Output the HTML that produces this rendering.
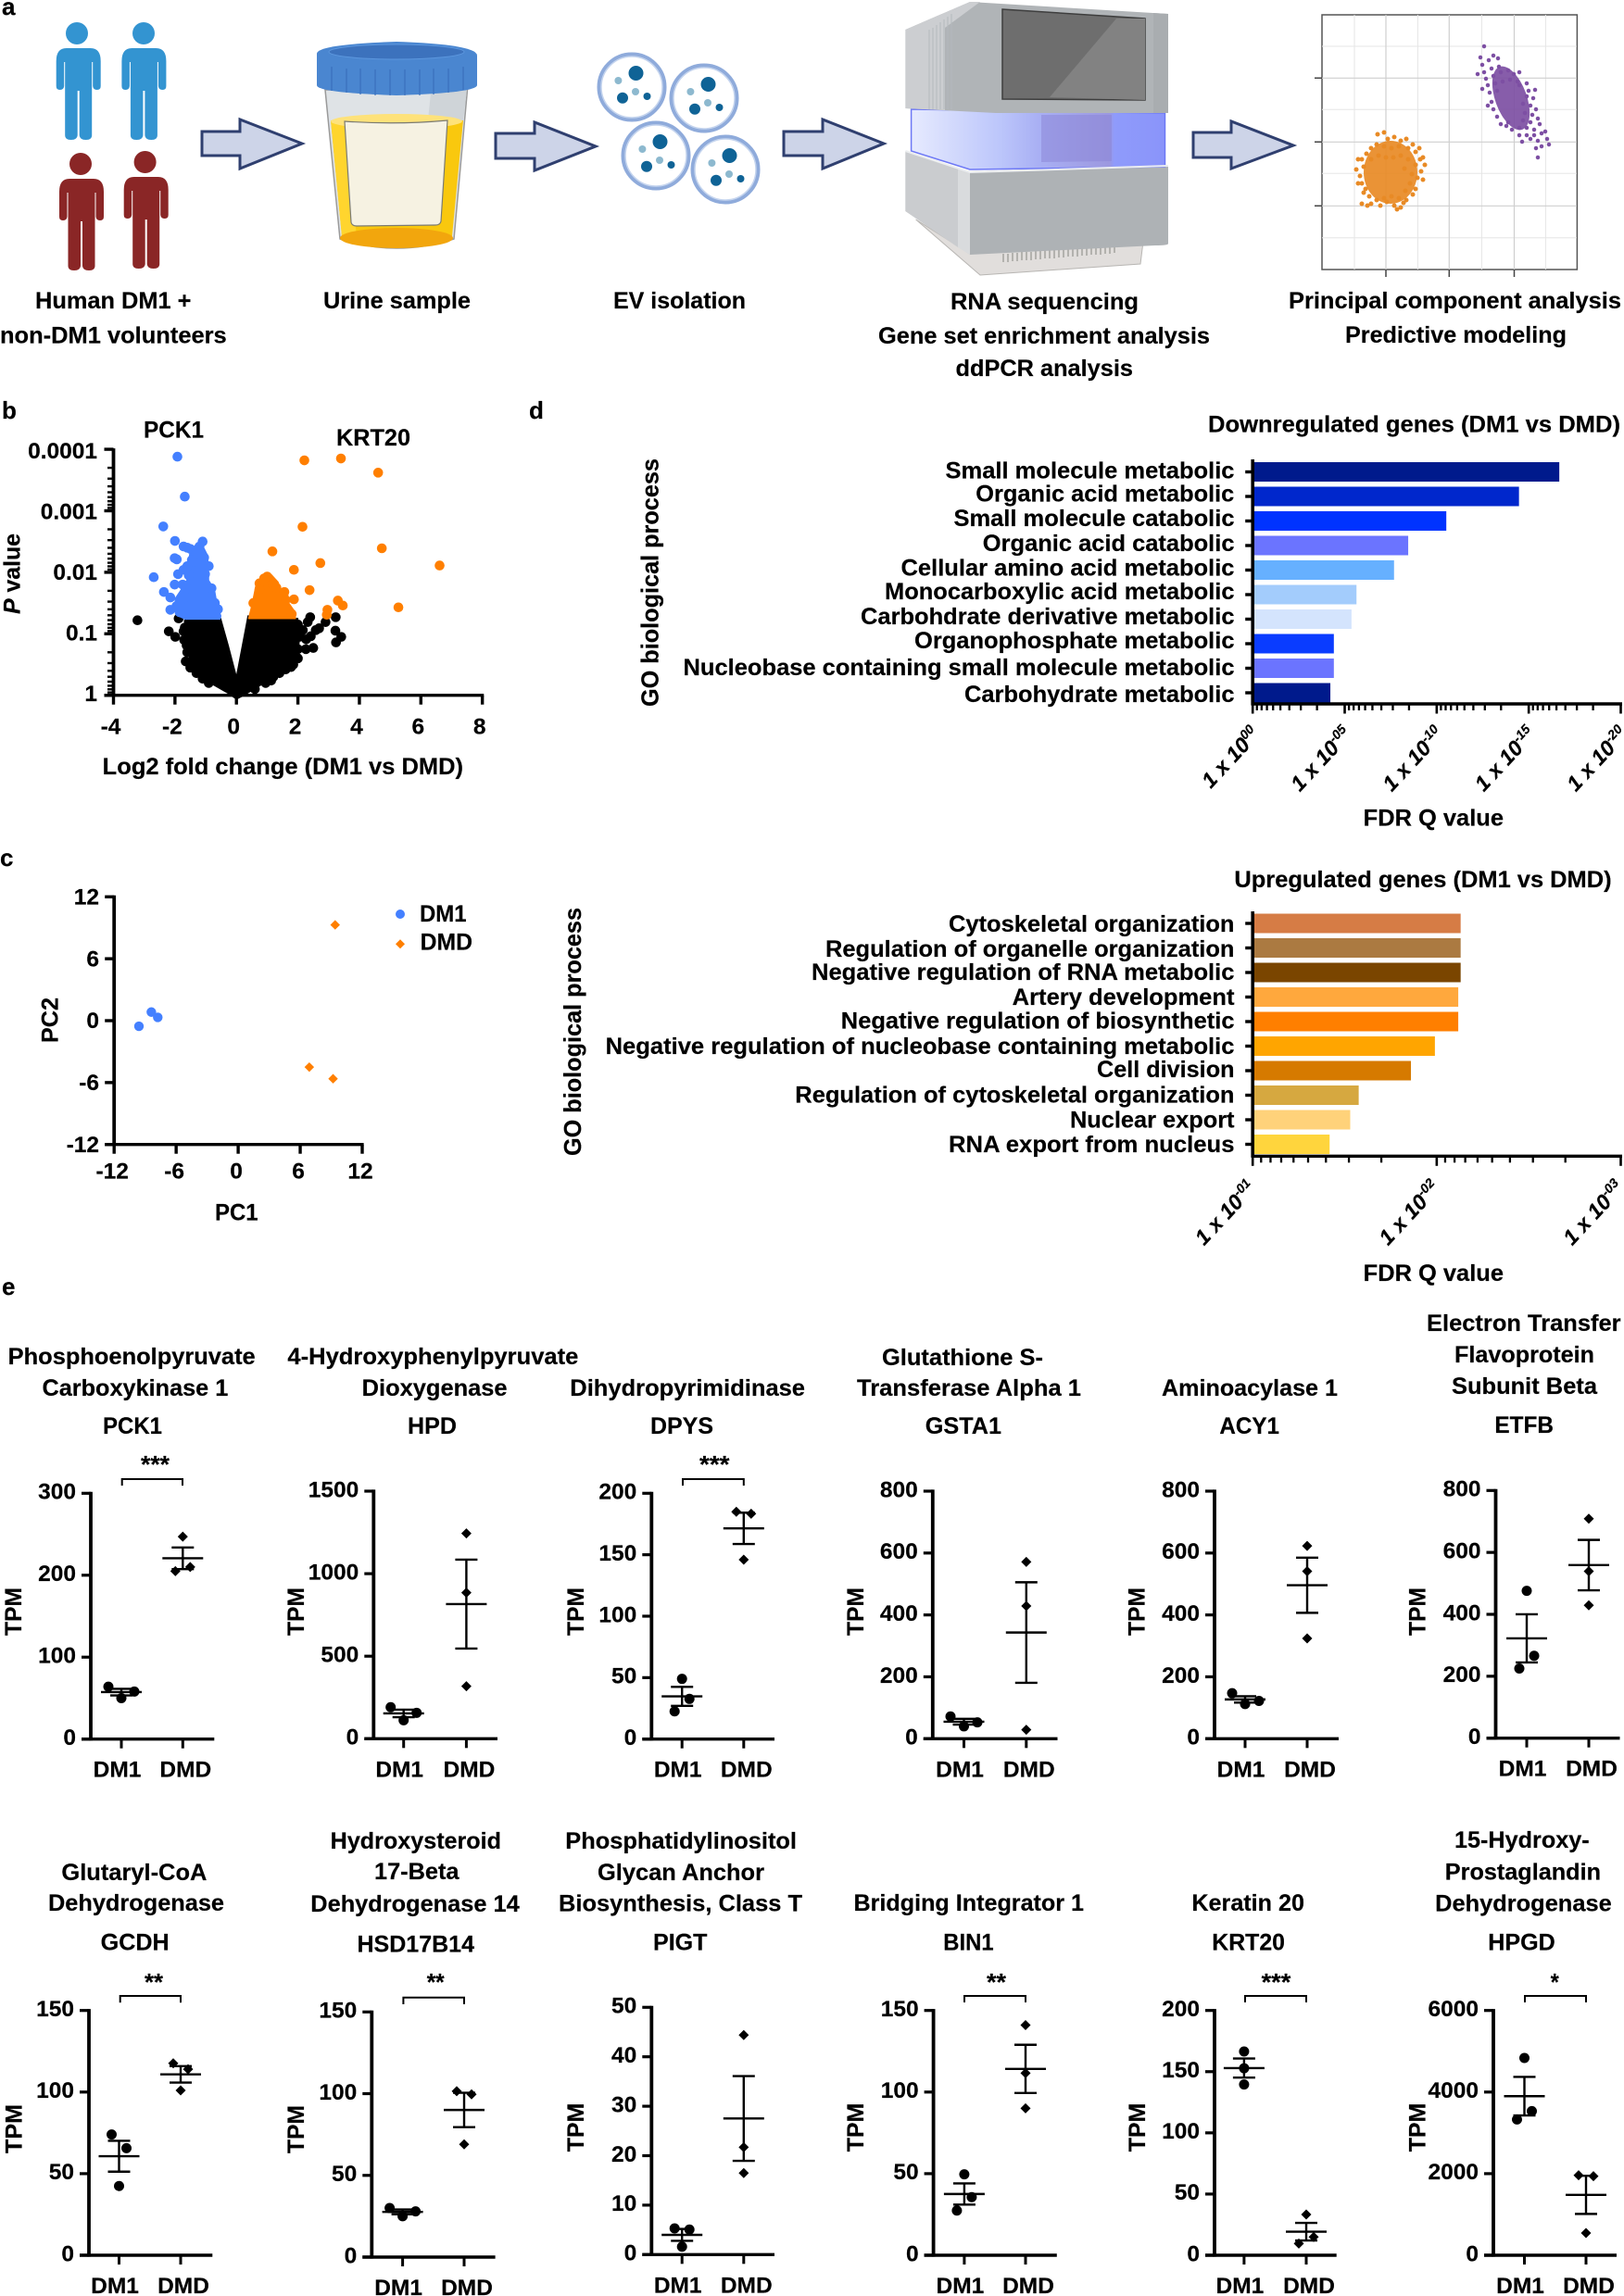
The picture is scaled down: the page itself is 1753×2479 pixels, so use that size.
<!DOCTYPE html>
<html lang="en">
<head>
<meta charset="utf-8">
<title>DM1 vs DMD urinary EV RNA analysis</title>
<style>
html,body{margin:0;padding:0;background:#fff}
svg{display:block}
text{font-family:"Liberation Sans",sans-serif;font-weight:700;font-size:25px;fill:#000;stroke:#000;stroke-width:.2px}
.tick{font-size:24.5px}
.cat{font-size:25px}
.panel{font-size:26px}
.star{font-size:26px}
.go{font-size:26px}
</style>
</head>
<body>
<svg id="fig" xmlns="http://www.w3.org/2000/svg" width="1753" height="2479" viewBox="0 0 1753 2479">
<defs>
<path id="person" d="M-13 28H13Q24 28 24 42V69Q24 73 20 73Q16 73 15.5 69V43H14.5V122Q14.5 127 8 127Q1.5 127 1 122V74H-1V122Q-1.5 127 -8 127Q-14.5 127 -14.5 122V43H-15.5V69Q-16 73 -20 73Q-24 73 -24 69V42Q-24 28 -13 28Z"/>
<linearGradient id="band" x1="0" x2="1" y1="0" y2="0">
<stop offset="0" stop-color="#e6eafe"/><stop offset=".35" stop-color="#bcc6fb"/><stop offset=".5" stop-color="#a9b0f4"/><stop offset=".78" stop-color="#9c98e0"/><stop offset=".8" stop-color="#8f9bfb"/><stop offset="1" stop-color="#8a94fa"/>
</linearGradient>
<g id="ev">
<circle r="35.5" fill="#fff" stroke="#8fabdb" stroke-width="4"/>
<circle r="33" fill="none" stroke="#c4d4ee" stroke-width="1.5"/>
<circle cx="4.5" cy="-15" r="8" fill="#0f6396"/>
<circle cx="-14.6" cy="-7" r="4" fill="#8db9cf"/>
<circle cx="-10" cy="11.7" r="6" fill="#0f6396"/>
<circle cx="4" cy="5" r="4" fill="#8db9cf"/>
<circle cx="16.5" cy="10" r="4" fill="#0f6396"/>
</g>
</defs>

<!-- PANEL A -->
<g id="panel-a">
<text class="panel" x="2" y="16">a</text>
<g fill="#3394d1">
<circle cx="83" cy="36" r="12"/><use href="#person" x="84.7" y="24"/>
<circle cx="155" cy="36" r="12"/><use href="#person" x="155.4" y="24"/>
</g>
<g fill="#8a2626">
<circle cx="87" cy="177" r="12"/><use href="#person" x="88" y="165"/>
<circle cx="156.6" cy="175" r="12"/><use href="#person" x="157.7" y="163"/>
</g>
<g fill="#cdd4e8" stroke="#2f3f6f" stroke-width="3" stroke-linejoin="miter">
<path d="M218 142H259V129L326 155L259 182V168H218Z"/>
<path d="M535 144H577V132L643 158L577 184V171H535Z"/>
<path d="M846 142H888V129L954 155L888 182V168H846Z"/>
<path d="M1288 143H1329V131L1396 157L1329 182V170H1288Z"/>
</g>
<g>
<path d="M351 97L367 258Q428 278 490 258L504.5 97Z" fill="#dfe3e6" stroke="#9a9a9a" stroke-width="1.5"/>
<path d="M465 100L504 97L500 130H462Z" fill="#cfd4d8"/>
<path d="M357 130L369 255Q428 275 488 255L500 130Z" fill="#f9c80e"/>
<path d="M357 130L369 255L385 255L372 130Z" fill="#ffd52e"/>
<ellipse cx="428" cy="131" rx="71" ry="8" fill="#fee27a"/>
<ellipse cx="428" cy="257" rx="61" ry="11" fill="#f2a60d"/>
<path d="M372 131Q428 135 483 130L476 239Q475 243 470 243L385 244Q380 244 379 240Z" fill="#f6f2e2" stroke="#7b7b72" stroke-width="1.2"/>
<path d="M342 58Q342 48 428 45Q515 48 515 60V92Q515 100 428 103Q342 100 342 92Z" fill="#4a86d0"/>
<path d="M358 72V98M374 74V100M389 74V102M405 75V103M421 75V103M437 75V103M453 75V103M468 74V102M484 74V100M500 72V97" stroke="#3a70bd" stroke-width="1.2" fill="none"/>
<ellipse cx="428" cy="56" rx="73" ry="8" fill="#3c72bd" stroke="#5c97de" stroke-width="1"/>
</g>
<g>
<use href="#ev" x="682" y="94"/>
<use href="#ev" x="760" y="106"/>
<use href="#ev" x="708" y="168"/>
<use href="#ev" x="783" y="183"/>
</g>
<g>
<path d="M988.6 237L1058 297L1231 285L1233.6 264L1047 274Z" fill="#e1dedc" stroke="#b8b6b3" stroke-width="1"/>
<path d="M1083 283V274M1088 283V274M1093 282V273M1098 282V273M1103 281V272M1108 281V272M1113 281V272M1118 280V271M1123 280V271M1128 279V270M1133 279V270M1138 279V270M1143 278V269M1148 278V269M1153 277V268M1158 277V268M1163 277V268M1168 276V267M1173 276V267M1178 275V266M1183 275V266M1188 275V266M1193 274V265M1198 274V265M1203 273V264" stroke="#85857f" stroke-width="1"/>
<path d="M977.4 163L1047 185L1261 178V263Q1261 265 1247 265L1047 275L977.4 228Z" fill="#aeb2b5"/>
<path d="M977.4 163L1034 181V267L977.4 228Z" fill="#cacccf"/>
<path d="M1034 181L1047 185V275L1034 267Z" fill="#d9dbdd"/>
<path d="M983.6 118L1257.5 122V180L1047 183L983.6 163Z" fill="url(#band)" stroke="#6d78f5" stroke-width="1.5"/>
<path d="M1124 124H1200V174L1124 175Z" fill="#8a84d6" opacity=".5"/>
<path d="M977.4 163L1047 186L1261 179" fill="none" stroke="#eceef0" stroke-width="2"/>
<path d="M977.4 32L1047 2L1261 15V122L1075 122L977.4 117Z" fill="#b0b4b7"/>
<path d="M977.4 32L1047 2H1058L1020 30V119L977.4 117Z" fill="#ccced1"/>
<path d="M1003 32V118M1007 30V118M1011 27V118M1015 24V118M1019 21V118M1023 18V118M1027 15V118" stroke="#b5b9bd" stroke-width="1"/>
<path d="M1245 14L1261 15V122H1245Z" fill="#a9adb0"/>
<path d="M1082 10L1236 20V108L1082 107Z" fill="#6e6e6e" stroke="#3e3e3e" stroke-width="1.5"/>
<path d="M1205 20L1236 20V108L1133 105Z" fill="#828282"/>
</g>
<g>
<rect x="1427" y="16" width="275.4" height="275" fill="#fff" stroke="#555" stroke-width="1.5"/>
<path d="M1462 16V291M1530.4 16V291M1599.4 16V291M1668.4 16V291M1427 50H1702M1427 118.3H1702M1427 187.3H1702M1427 256.7H1702" stroke="#e6e6e6" stroke-width="1"/>
<path d="M1496 16V291M1564.3 16V291M1634.5 16V291M1427 84.3H1702M1427 153.3H1702M1427 222.3H1702" stroke="#cfcfcf" stroke-width="1.2"/>
<path d="M1419 84.3H1427M1419 153.3H1427M1419 222.3H1427M1496 291V299M1564.3 291V299M1634.5 291V299" stroke="#444" stroke-width="1.5"/>
<ellipse cx="1501" cy="186" rx="29" ry="34" fill="#e88a25" opacity=".92"/>
<ellipse cx="1631" cy="106" rx="17" ry="36" fill="#7d4fa3" opacity=".92" transform="rotate(-20 1631 106)"/>
<path fill="none" stroke="#e88a25" stroke-width="5" stroke-linecap="round" d="M1487 145h0M1494 143h0M1498 150h0M1505 148h0M1512 152h0M1518 150h0M1525 156h0M1532 160h0M1536 170h0M1538 178h0M1533 172h0M1528 164h0M1520 160h0M1510 158h0M1502 160h0M1494 158h0M1486 156h0M1480 160h0M1475 166h0M1470 172h0M1466 172h0M1464 183h0M1468 190h0M1472 180h0M1480 172h0M1488 168h0M1496 170h0M1504 170h0M1512 168h0M1520 172h0M1528 178h0M1534 185h0M1530 192h0M1536 194h0M1524 188h0M1516 182h0M1470 198h0M1466 198h0M1474 204h0M1522 198h0M1528 204h0M1525 210h0M1517 206h0M1478 212h0M1472 208h0M1486 216h0M1494 214h0M1502 212h0M1510 214h0M1518 216h0M1512 224h0M1505 222h0M1497 218h0M1490 222h0M1480 220h0M1476 222h0M1470 220h0M1508 226h0M1515 219h0"/>
<path fill="none" stroke="#7d4fa3" stroke-width="4.5" stroke-linecap="round" d="M1602 50h0M1598 62h0M1600 70h0M1607 65h0M1612 60h0M1617 63h0M1618 72h0M1610 74h0M1602 78h0M1595 80h0M1604 85h0M1612 82h0M1620 78h0M1628 76h0M1634 80h0M1640 78h0M1638 88h0M1630 86h0M1622 88h0M1614 90h0M1606 92h0M1600 96h0M1608 100h0M1616 98h0M1640 92h0M1648 90h0M1650 98h0M1657 97h0M1655 106h0M1648 104h0M1610 110h0M1606 114h0M1612 118h0M1644 112h0M1652 114h0M1658 118h0M1654 124h0M1646 122h0M1616 126h0M1620 134h0M1628 132h0M1644 130h0M1652 132h0M1660 128h0M1662 134h0M1656 140h0M1648 138h0M1640 138h0M1632 140h0M1626 136h0M1640 146h0M1648 146h0M1656 146h0M1664 144h0M1668 142h0M1672 156h0M1664 158h0M1670 150h0M1660 152h0M1658 160h0M1652 150h0M1643 153h0M1660 170h0"/>
</g>
<text x="38" y="333" textLength="168.5" lengthAdjust="spacingAndGlyphs">Human DM1 +</text>
<text x="0" y="370.7" textLength="244.7" lengthAdjust="spacingAndGlyphs">non-DM1 volunteers</text>
<text x="349" y="333" textLength="159" lengthAdjust="spacingAndGlyphs">Urine sample</text>
<text x="662" y="333" textLength="143" lengthAdjust="spacingAndGlyphs">EV isolation</text>
<text x="1026" y="334" textLength="203" lengthAdjust="spacingAndGlyphs">RNA sequencing</text>
<text x="948" y="371" textLength="358" lengthAdjust="spacingAndGlyphs">Gene set enrichment analysis</text>
<text x="1031.5" y="406" textLength="191.5" lengthAdjust="spacingAndGlyphs">ddPCR analysis</text>
<text x="1391" y="333" textLength="359" lengthAdjust="spacingAndGlyphs">Principal component analysis</text>
<text x="1452" y="370" textLength="239" lengthAdjust="spacingAndGlyphs">Predictive modeling</text>
</g>

<!-- PANEL B -->
<g id="panel-b">
<text class="panel" x="2" y="452">b</text>
<text x="155" y="472.7" textLength="65" lengthAdjust="spacingAndGlyphs">PCK1</text>
<text x="363" y="481" textLength="80" lengthAdjust="spacingAndGlyphs">KRT20</text>
<text x="21.4" y="663" transform="rotate(-90 21.4 663)" textLength="87" lengthAdjust="spacingAndGlyphs"><tspan font-style="italic">P</tspan> value</text>
<text x="110.7" y="836" textLength="389.3" lengthAdjust="spacingAndGlyphs">Log2 fold change (DM1 vs DMD)</text>
</g>

<!-- PANEL C -->
<g id="panel-c">
<text class="panel" x="0" y="935">c</text>
<text x="62.5" y="1126" transform="rotate(-90 62.5 1126)" textLength="49" lengthAdjust="spacingAndGlyphs">PC2</text>
<text x="232" y="1317.7" textLength="46.6" lengthAdjust="spacingAndGlyphs">PC1</text>
<circle cx="432" cy="987" r="5" fill="#4480ff"/>
<text x="453" y="995" textLength="50.6" lengthAdjust="spacingAndGlyphs">DM1</text>
<path d="M432 1014.3L437 1019.3L432 1024.3L427 1019.3Z" fill="#ff7f00"/>
<text x="453.6" y="1025.7" textLength="56.4" lengthAdjust="spacingAndGlyphs">DMD</text>
</g>

<!-- PANEL D -->
<g id="panel-d-down">
<text class="panel" x="571" y="452">d</text>
<text x="1304" y="466.7" textLength="445" lengthAdjust="spacingAndGlyphs">Downregulated genes (DM1 vs DMD)</text>
<text class="go" x="710.7" y="763" transform="rotate(-90 710.7 763)" textLength="268" lengthAdjust="spacingAndGlyphs">GO biological process</text>
<text x="1471.7" y="891.7" textLength="151.3" lengthAdjust="spacingAndGlyphs">FDR Q value</text>
<g text-anchor="start">
<text class="cat" x="1020.5" y="516.7" textLength="312" lengthAdjust="spacingAndGlyphs">Small molecule metabolic</text>
<text class="cat" x="1053.3" y="541.7" textLength="279" lengthAdjust="spacingAndGlyphs">Organic acid metabolic</text>
<text class="cat" x="1029.5" y="568" textLength="303" lengthAdjust="spacingAndGlyphs">Small molecule catabolic</text>
<text class="cat" x="1060.8" y="595" textLength="271.7" lengthAdjust="spacingAndGlyphs">Organic acid catabolic</text>
<text class="cat" x="972.5" y="621.7" textLength="360" lengthAdjust="spacingAndGlyphs">Cellular amino acid metabolic</text>
<text class="cat" x="955" y="647" textLength="377.5" lengthAdjust="spacingAndGlyphs">Monocarboxylic acid metabolic</text>
<text class="cat" x="929" y="674" textLength="403.5" lengthAdjust="spacingAndGlyphs">Carbohdrate derivative metabolic</text>
<text class="cat" x="987" y="700" textLength="345.5" lengthAdjust="spacingAndGlyphs">Organophosphate metabolic</text>
<text class="cat" x="737.5" y="729" textLength="595" lengthAdjust="spacingAndGlyphs">Nucleobase containing small molecule metabolic</text>
<text class="cat" x="1041" y="758" textLength="291.5" lengthAdjust="spacingAndGlyphs">Carbohydrate metabolic</text>
</g>
</g>
<g id="panel-d-up">
<text x="1332.4" y="958" textLength="407.2" lengthAdjust="spacingAndGlyphs">Upregulated genes (DM1 vs DMD)</text>
<text class="go" x="627" y="1248" transform="rotate(-90 627 1248)" textLength="268" lengthAdjust="spacingAndGlyphs">GO biological process</text>
<text x="1471.7" y="1383" textLength="151.3" lengthAdjust="spacingAndGlyphs">FDR Q value</text>
<g>
<text class="cat" x="1024" y="1006" textLength="308.5" lengthAdjust="spacingAndGlyphs">Cytoskeletal organization</text>
<text class="cat" x="891" y="1033" textLength="441.5" lengthAdjust="spacingAndGlyphs">Regulation of organelle organization</text>
<text class="cat" x="876" y="1058" textLength="456.5" lengthAdjust="spacingAndGlyphs">Negative regulation of RNA metabolic</text>
<text class="cat" x="1092.7" y="1085" textLength="239.8" lengthAdjust="spacingAndGlyphs">Artery development</text>
<text class="cat" x="907.8" y="1110.7" textLength="424.7" lengthAdjust="spacingAndGlyphs">Negative regulation of biosynthetic</text>
<text class="cat" x="653.6" y="1138" textLength="678.9" lengthAdjust="spacingAndGlyphs">Negative regulation of nucleobase containing metabolic</text>
<text class="cat" x="1184" y="1163" textLength="148.5" lengthAdjust="spacingAndGlyphs">Cell division</text>
<text class="cat" x="858.3" y="1190.7" textLength="474.2" lengthAdjust="spacingAndGlyphs">Regulation of cytoskeletal organization</text>
<text class="cat" x="1155" y="1217.7" textLength="177.5" lengthAdjust="spacingAndGlyphs">Nuclear export</text>
<text class="cat" x="1024" y="1244" textLength="308.5" lengthAdjust="spacingAndGlyphs">RNA export from nucleus</text>
</g>
</g>

<!-- PANEL E -->
<text class="panel" x="2" y="1398">e</text>
<g id="chart-0">
<text x="8.7" y="1473" textLength="267" lengthAdjust="spacingAndGlyphs">Phosphoenolpyruvate</text>
<text x="45.5" y="1507" textLength="200.8" lengthAdjust="spacingAndGlyphs">Carboxykinase 1</text>
<text x="111" y="1548" textLength="64" lengthAdjust="spacingAndGlyphs">PCK1</text>
<text x="23" y="1766" transform="rotate(-90 23 1766)" textLength="52" lengthAdjust="spacingAndGlyphs">TPM</text>
<text class="star" x="152" y="1590" textLength="31" lengthAdjust="spacingAndGlyphs">***</text>
<path d="M131.7 1604V1597H197V1604" fill="none" stroke="#000" stroke-width="2"/>
</g>
<g id="chart-1">
<text x="310.4" y="1473" textLength="314" lengthAdjust="spacingAndGlyphs">4-Hydroxyphenylpyruvate</text>
<text x="390.7" y="1507" textLength="156.9" lengthAdjust="spacingAndGlyphs">Dioxygenase</text>
<text x="440" y="1548" textLength="53" lengthAdjust="spacingAndGlyphs">HPD</text>
<text x="328" y="1766" transform="rotate(-90 328 1766)" textLength="52" lengthAdjust="spacingAndGlyphs">TPM</text>
</g>
<g id="chart-2">
<text x="615.3" y="1507" textLength="253.7" lengthAdjust="spacingAndGlyphs">Dihydropyrimidinase</text>
<text x="702" y="1548" textLength="68" lengthAdjust="spacingAndGlyphs">DPYS</text>
<text x="629.9" y="1766" transform="rotate(-90 629.9 1766)" textLength="52" lengthAdjust="spacingAndGlyphs">TPM</text>
<text class="star" x="755" y="1590" textLength="32.5" lengthAdjust="spacingAndGlyphs">***</text>
<path d="M737 1604V1597H802.8V1604" fill="none" stroke="#000" stroke-width="2"/>
</g>
<g id="chart-3">
<text x="952" y="1474" textLength="174" lengthAdjust="spacingAndGlyphs">Glutathione S-</text>
<text x="925" y="1507" textLength="242" lengthAdjust="spacingAndGlyphs">Transferase Alpha 1</text>
<text x="998.8" y="1548" textLength="82.2" lengthAdjust="spacingAndGlyphs">GSTA1</text>
<text x="932" y="1766" transform="rotate(-90 932 1766)" textLength="52" lengthAdjust="spacingAndGlyphs">TPM</text>
</g>
<g id="chart-4">
<text x="1254" y="1507" textLength="190" lengthAdjust="spacingAndGlyphs">Aminoacylase 1</text>
<text x="1316.4" y="1548" textLength="64.6" lengthAdjust="spacingAndGlyphs">ACY1</text>
<text x="1235.3" y="1766" transform="rotate(-90 1235.3 1766)" textLength="52" lengthAdjust="spacingAndGlyphs">TPM</text>
</g>
<g id="chart-5">
<text x="1540" y="1437" textLength="209.6" lengthAdjust="spacingAndGlyphs">Electron Transfer</text>
<text x="1570" y="1471" textLength="151" lengthAdjust="spacingAndGlyphs">Flavoprotein</text>
<text x="1567" y="1505" textLength="157" lengthAdjust="spacingAndGlyphs">Subunit Beta</text>
<text x="1613.4" y="1547" textLength="63.6" lengthAdjust="spacingAndGlyphs">ETFB</text>
<text x="1538.6" y="1766" transform="rotate(-90 1538.6 1766)" textLength="52" lengthAdjust="spacingAndGlyphs">TPM</text>
</g>
<g id="chart-6">
<text x="66.4" y="2030" textLength="157" lengthAdjust="spacingAndGlyphs">Glutaryl-CoA</text>
<text x="52" y="2063" textLength="190" lengthAdjust="spacingAndGlyphs">Dehydrogenase</text>
<text x="108.7" y="2105.7" textLength="74" lengthAdjust="spacingAndGlyphs">GCDH</text>
<text x="23.7" y="2325" transform="rotate(-90 23.7 2325)" textLength="53" lengthAdjust="spacingAndGlyphs">TPM</text>
<text class="star" x="156" y="2149" textLength="20" lengthAdjust="spacingAndGlyphs">**</text>
<path d="M129.7 2162.3V2155H195V2162.3" fill="none" stroke="#000" stroke-width="2"/>
</g>
<g id="chart-7">
<text x="356.7" y="1996" textLength="184.3" lengthAdjust="spacingAndGlyphs">Hydroxysteroid</text>
<text x="404" y="2029" textLength="91.5" lengthAdjust="spacingAndGlyphs">17-Beta</text>
<text x="335.3" y="2064" textLength="225.4" lengthAdjust="spacingAndGlyphs">Dehydrogenase 14</text>
<text x="385.5" y="2107.7" textLength="126.5" lengthAdjust="spacingAndGlyphs">HSD17B14</text>
<text x="328" y="2325" transform="rotate(-90 328 2325)" textLength="52" lengthAdjust="spacingAndGlyphs">TPM</text>
<text class="star" x="460.7" y="2149" textLength="19" lengthAdjust="spacingAndGlyphs">**</text>
<path d="M435.4 2164V2156.7H501V2164" fill="none" stroke="#000" stroke-width="2"/>
</g>
<g id="chart-8">
<text x="610.3" y="1996" textLength="249.7" lengthAdjust="spacingAndGlyphs">Phosphatidylinositol</text>
<text x="645" y="2030" textLength="180" lengthAdjust="spacingAndGlyphs">Glycan Anchor</text>
<text x="603" y="2063.3" textLength="263" lengthAdjust="spacingAndGlyphs">Biosynthesis, Class T</text>
<text x="705" y="2105.7" textLength="58.4" lengthAdjust="spacingAndGlyphs">PIGT</text>
<text x="629.9" y="2323.3" transform="rotate(-90 629.9 2323.3)" textLength="52.6" lengthAdjust="spacingAndGlyphs">TPM</text>
</g>
<g id="chart-9">
<text x="921.5" y="2063" textLength="248.5" lengthAdjust="spacingAndGlyphs">Bridging Integrator 1</text>
<text x="1018.3" y="2105.7" textLength="54.3" lengthAdjust="spacingAndGlyphs">BIN1</text>
<text x="932.2" y="2323.3" transform="rotate(-90 932.2 2323.3)" textLength="52.6" lengthAdjust="spacingAndGlyphs">TPM</text>
<text class="star" x="1065" y="2149" textLength="21" lengthAdjust="spacingAndGlyphs">**</text>
<path d="M1041 2162V2155H1107V2162" fill="none" stroke="#000" stroke-width="2"/>
</g>
<g id="chart-10">
<text x="1286.4" y="2063" textLength="121.6" lengthAdjust="spacingAndGlyphs">Keratin 20</text>
<text x="1308.3" y="2105.7" textLength="78.7" lengthAdjust="spacingAndGlyphs">KRT20</text>
<text x="1236" y="2323.3" transform="rotate(-90 1236 2323.3)" textLength="52.6" lengthAdjust="spacingAndGlyphs">TPM</text>
<text class="star" x="1361.6" y="2149" textLength="31.7" lengthAdjust="spacingAndGlyphs">***</text>
<path d="M1344 2162V2155H1410V2162" fill="none" stroke="#000" stroke-width="2"/>
</g>
<g id="chart-11">
<text x="1570" y="1995" textLength="145.7" lengthAdjust="spacingAndGlyphs">15-Hydroxy-</text>
<text x="1559.8" y="2029.3" textLength="168.2" lengthAdjust="spacingAndGlyphs">Prostaglandin</text>
<text x="1549.2" y="2063.3" textLength="190.5" lengthAdjust="spacingAndGlyphs">Dehydrogenase</text>
<text x="1606.3" y="2105.7" textLength="72.4" lengthAdjust="spacingAndGlyphs">HPGD</text>
<text x="1538.6" y="2323.3" transform="rotate(-90 1538.6 2323.3)" textLength="52.6" lengthAdjust="spacingAndGlyphs">TPM</text>
<text class="star" x="1673.7" y="2149" textLength="9" lengthAdjust="spacingAndGlyphs">*</text>
<path d="M1646 2162V2155H1712V2162" fill="none" stroke="#000" stroke-width="2"/>
</g>
</svg>

<script>
/* ---------- Volcano (panel b) data: log2 fold change and -log10 P ---------- */
const volcanoXTicks = [-4, -2, 0, 2, 4, 6, 8];
const volcanoYTicks = [0, 1, 2, 3, 4];
const volcanoYTickLabels = ['1', '0.1', '0.01', '0.001', '0.0001'];
const blackCloudFold = [-0.54, -0.27, 0, 0.38, 0.48, 1.99, 2.05, 1.99, 1.78, 1.18, 0.7, 0.27, 0, -0.27, -0.81, -1.24, -1.61, -1.51, -1.67, -1.72, -1.56, -1.24];
const blackCloudLogP = [1.29, 0.81, 0.29, 1.29, 1.25, 1.25, 0.96, 0.56, 0.41, 0.29, 0.14, 0.01, -0.06, 0.035, 0.19, 0.34, 0.51, 0.66, 0.81, 1.01, 1.24, 1.25];
const blueCloudFold = [-0.51, -0.65, -0.72, -0.91, -0.91, -0.94, -1.11, -1.29, -1.51, -1.56, -1.61, -1.83, -1.99, -1.99, -1.88, -1.67, -0.54];
const blueCloudLogP = [1.29, 1.52, 1.72, 1.87, 1.99, 2.27, 2.44, 2.47, 2.32, 2.12, 1.87, 1.69, 1.57, 1.37, 1.29, 1.24, 1.24];
const orangeCloudFold = [0.4, 0.48, 0.57, 0.65, 0.91, 1.13, 1.35, 1.45, 1.67, 1.67, 1.88, 1.92];
const orangeCloudLogP = [1.25, 1.41, 1.62, 1.82, 1.97, 1.96, 1.84, 1.69, 1.67, 1.52, 1.37, 1.25];
const bluePointFold = [-1.92, -1.68, -2.38, -2.0, -2.69, -2.01, -1.94, -1.9, -2.01, -2.36, -2.15, -2.15, -1.72, -1.5, -1.2, -1.29, -1.05, -1.4, -1.72, -1.02, -0.81, -1.45, -1.6, -1.3, -1.45, -1.75, -1.65, -1.85, -1.75, -0.85, -0.7, -0.6, -0.9, -1.55, -1.85, -1.95, -1.1, -1.6];
const bluePointLogP = [3.88, 3.23, 2.745, 2.51, 1.92, 2.23, 2.21, 1.97, 1.8, 1.68, 1.59, 1.39, 2.42, 2.38, 2.42, 2.34, 2.24, 2.17, 2.04, 1.97, 1.74, 1.87, 2.1, 2.3, 2.2, 1.8, 1.6, 1.5, 1.42, 1.6, 1.5, 1.4, 2.1, 1.95, 1.35, 1.45, 2.5, 2.4];
const orangePointFold = [2.21, 3.4, 4.61, 2.15, 4.73, 1.17, 2.73, 1.87, 6.61, 2.38, 1.87, 3.3, 3.46, 5.27, 2.96, 2.94, 1.0, 0.75, 1.18, 1.56, 0.75, 1.3, 1.6, 0.55, 1.8, 0.9];
const orangePointLogP = [3.82, 3.85, 3.62, 2.74, 2.39, 2.34, 2.15, 2.04, 2.11, 1.71, 1.56, 1.54, 1.46, 1.43, 1.39, 1.31, 1.93, 1.82, 1.8, 1.68, 1.72, 1.75, 1.55, 1.5, 1.32, 1.9];
const blackPointFold = [-3.22, -1.88, -2.2, -1.99, -1.72, -1.62, 3.23, 3.22, 3.41, 3.24, 2.4, 2.32, 2.69, 2.9, 2.42, 2.26, 2.5, 2.27, 2.16, 1.13, 1.78, 2.58, -1.7, -1.6, -1.65, -1.5, -1.3, -1.1, -0.9, -1.68, -1.55, 2.0, 2.05, 2.0, 2.0, 1.85, 1.6, 1.4, 1.2, 0.95, 0.6];
const blackPointLogP = [1.22, 1.25, 1.04, 0.95, 1.04, 0.81, 1.27, 1.05, 0.95, 0.86, 1.27, 1.19, 1.09, 1.19, 0.96, 0.75, 0.77, 0.91, 1.06, 0.24, 0.46, 1.06, 0.9, 0.7, 0.55, 0.45, 0.36, 0.27, 0.2, 1.1, 1.2, 1.15, 0.95, 0.75, 0.6, 0.5, 0.42, 0.36, 0.3, 0.2, 0.1];

/* ---------- PCA (panel c) data ---------- */
const pcaTicks = [-12, -6, 0, 6, 12];
const dm1Pc1 = [-9.6, -8.4, -7.78];
const dm1Pc2 = [-0.54, 0.83, 0.32];
const dmdPc1 = [9.38, 6.88, 9.18];
const dmdPc2 = [9.28, -4.5, -5.63];

/* ---------- GO bars (panel d) data: -log10 FDR Q ---------- */
const downQ = [16.66, 14.47, 10.52, 8.45, 7.68, 5.64, 5.37, 4.41, 4.41, 4.22];
const downColors = ['#001a8c', '#0027cc', '#0033ff', '#6b74ff', '#66b0ff', '#a3ccfc', '#d4e4fd', '#0a3cff', '#6b74ff', '#001a8c'];
const downExponents = [0, 5, 10, 15, 20];
const downExponentLabels = ['00', '-05', '-10', '-15', '-20'];
const upQ = [2.13, 2.13, 2.13, 2.117, 2.117, 1.99, 1.86, 1.576, 1.53, 1.418];
const upColors = ['#d67c45', '#ab7a41', '#7a4500', '#ffa83d', '#ff7f00', '#ffa500', '#d67a00', '#d6a840', '#ffd27a', '#ffd53d'];
const upExponents = [1, 2, 3];
const upExponentLabels = ['-01', '-02', '-03'];

/* ---------- TPM dot plots (panel e) data ---------- */
const groupLabels = ['DM1', 'DMD'];
const geneSymbols = ['pck1', 'hpd', 'dpys', 'gsta1', 'acy1', 'etfb', 'gcdh', 'hsd17b14', 'pigt', 'bin1', 'krt20', 'hpgd'];
const tpmTicks = [[0,100,200,300],[0,500,1000,1500],[0,50,100,150,200],[0,200,400,600,800],[0,200,400,600,800],[0,200,400,600,800],[0,50,100,150],[0,50,100,150],[0,10,20,30,40,50],[0,50,100,150],[0,50,100,150,200],[0,2000,4000,6000]];
const dm1Tpm = [[64,50,58],[191,112,157],[49,22.6,32.7],[72,40,53],[147,112,122],[476,225,266],[74,65.6,42.4],[30,25,28],[5.3,5.06,1.6],[49.6,27.4,35.6],[166.5,152.8,139.5],[4835,3329,3533]];
const dmdTpm = [[247,205,210],[1244,885,318],[185,183.4,146],[571.6,429,29],[623,541,324],[709,539,429],[117.6,114,101],[101.5,99.6,69],[44.4,21.7,16.5],[141,111.6,90],[33.3,9.6,14.9],[1960,1937,545]];

/* Layout (separate from the data above) */
const dm1Jitter = [[-14,0,14],[-14,0,14],[0,-8,8],[-14.5,0,14.5],[-14,0,15],[0,-8,8],[-8,8,0],[-14,0,14],[-8,8,0],[0,-8,8],[0,0,0],[0,-8,8]];
const dmdJitter = [[0,-8,8],[0,0,0],[-8,8,0],[0,0,0],[0,0,0],[0,0,0],[-8,8,0],[-8,8,0],[0,0,0],[0,0,0],[0,-8,8],[-8,8,0]];
const axisLeft = [98,403.3,703.3,1006.8,1311,1614.5,96,401.3,703.3,1007.6,1311,1612];
const axisRight = [231.3,537,836,1141.5,1445,1748.5,229.3,534.6,836,1140.8,1442.7,1745];
const axisTop = [1612.3,1610,1612.3,1610,1610,1609.3,2170.7,2172.3,2167.3,2170.7,2170.7,2170.7];
const axisBottom = [1877.7,1877.3,1877.7,1877.3,1877.3,1876.7,2435,2437,2434.3,2435,2435,2435];
const dm1TickX = [131,435.7,736.2,1040.5,1344,1648,128.5,434.6,736.2,1040.9,1342.9,1645.5];
const dmdTickX = [197.3,503.4,802.8,1107.8,1411,1715,195,501,802.8,1107,1410,1712];

const NS = 'http://www.w3.org/2000/svg';
function el(tag, attrs, parent) {
  const e = document.createElementNS(NS, tag);
  for (const k in attrs) e.setAttribute(k, attrs[k]);
  parent.appendChild(e);
  return e;
}
function axisLine(parent, x1, y1, x2, y2, width, name) {
  const l = el('line', {x1, y1, x2, y2, stroke: '#000', 'stroke-width': width}, parent);
  
  
  return l;
}
function label(parent, x, y, str, anchor, name) {
  const t = el('text', {x, y, 'text-anchor': anchor, class: 'tick'}, parent);
  t.textContent = str;
  
  
  return t;
}
function dot(parent, x, y, r, fill, name) {
  const c = el('circle', {cx: x, cy: y, r, fill}, parent);
  
  
  return c;
}
function diamond(parent, x, y, s, fill, name) {
  const p = el('path', {d: `M${x} ${y - s}L${x + s} ${y}L${x} ${y + s}L${x - s} ${y}Z`, fill}, parent);
  
  
  return p;
}
function cloud(parent, xs, ys, sx, sy, fill, name) {
  const pts = xs.map((v, i) => sx(v) + ',' + sy(ys[i])).join(' ');
  const p = el('polygon', {points: pts, fill, stroke: fill, 'stroke-width': 1.5, 'stroke-linejoin': 'round'}, parent);
  
  
  return p;
}

/* ---------- Panel b ---------- */
(function () {
  const g = document.getElementById('panel-b');
  const sx = v => 122.5 + (v + 4) * 33.18;
  const sy = v => 750.7 - v * 66.4;
  cloud(g, blackCloudFold, blackCloudLogP, sx, sy, '#000', 'not-significant-cloud');
  blackPointFold.forEach((v, i) => dot(g, sx(v), sy(blackPointLogP[i]), 5.3, '#000', 'not-significant-gene'));
  cloud(g, blueCloudFold, blueCloudLogP, sx, sy, '#4480ff', 'downregulated-cloud');
  bluePointFold.forEach((v, i) => dot(g, sx(v), sy(bluePointLogP[i]), 5.3, '#4480ff', 'downregulated-gene'));
  cloud(g, orangeCloudFold, orangeCloudLogP, sx, sy, '#ff7f00', 'upregulated-cloud');
  orangePointFold.forEach((v, i) => dot(g, sx(v), sy(orangePointLogP[i]), 5.3, '#ff7f00', 'upregulated-gene'));
  axisLine(g, sx(-4), sy(4) - 1, sx(-4), sy(0) + 1.6, 3.8, 'y-axis');
  axisLine(g, sx(-4) - 10, sy(0), sx(8) + 1.6, sy(0), 3.4, 'x-axis');
  volcanoYTicks.forEach((v, i) => {
    axisLine(g, sx(-4) - 10, sy(v), sx(-4), sy(v), 3.4, 'y-tick');
    label(g, 105, sy(v) + 6.3 + v * 0.9, volcanoYTickLabels[i], 'end', 'y-tick-label');
    if (v < 4) for (let k = 2; k <= 9; k++) {
      const m = v + 1 - Math.log10(k) ;
      axisLine(g, sx(-4) - 6.5, sy(m), sx(-4), sy(m), 2.4, 'y-minor-tick');
    }
  });
  volcanoXTicks.forEach(v => {
    axisLine(g, sx(v), sy(0), sx(v), sy(0) + 10, 3.4, 'x-tick');
    label(g, sx(v) - 3, 792.7, String(v), 'middle', 'x-tick-label');
  });
})();

/* ---------- Panel c ---------- */
(function () {
  const g = document.getElementById('panel-c');
  const sx = v => 123.2 + (v + 12) * (267.8 / 24);
  const sy = v => 1235.7 - (v + 12) * (267.4 / 24);
  axisLine(g, sx(-12), sy(12) - 1.6, sx(-12), sy(-12) + 1.6, 3.8, 'y-axis');
  axisLine(g, sx(-12) - 10, sy(-12), sx(12) + 1.6, sy(-12), 3.4, 'x-axis');
  pcaTicks.forEach(v => {
    axisLine(g, sx(-12) - 10, sy(v), sx(-12), sy(v), 3.4, 'y-tick');
    label(g, 107, sy(v) + 8.2, String(v), 'end', 'y-tick-label');
    axisLine(g, sx(v), sy(-12), sx(v), sy(-12) + 10, 3.4, 'x-tick');
    label(g, sx(v) - 2, 1272.7, String(v), 'middle', 'x-tick-label');
  });
  dm1Pc1.forEach((v, i) => dot(g, sx(v), sy(dm1Pc2[i]), 5.2, '#4480ff', 'dm1-sample'));
  dmdPc1.forEach((v, i) => diamond(g, sx(v), sy(dmdPc2[i]), 5.2, '#ff7f00', 'dmd-sample'));
})();

/* ---------- Panel d ---------- */
function goChart(gid, values, colors, firstBand, axisTopY, axisY, minV, maxV, exps, expLabels, labelY, labelDx) {
  const g = document.getElementById(gid);
  const x0 = 1352.2;
  const sx = v => x0 + (v - minV) * (1749.5 - x0) / (maxV - minV);
  values.forEach((v, i) => {
    const cy = firstBand + i * 26.5;
    const b = el('rect', {x: x0, y: cy - 10.5, width: sx(v) - x0, height: 21, fill: colors[i]}, g);
    
    
    axisLine(g, x0 - 8, cy, x0, cy, 3.4, 'y-tick');
  });
  axisLine(g, x0, axisTopY, x0, axisY + 1.6, 3.6, 'y-axis');
  axisLine(g, x0, axisY, 1751, axisY, 3.4, 'x-axis');
  exps.forEach((v, i) => {
    axisLine(g, sx(v), axisY, sx(v), axisY + 10.5, 2.6, 'x-tick');
    if (i < exps.length - 1) {
      const span = exps[i + 1] - v;
      for (let k = 9; k >= 2; k--) {
        const m = v + span * Math.log10(10 / k);
        axisLine(g, sx(m), axisY, sx(m), axisY + 7, 2.3, 'x-minor-tick');
      }
    }
    const ax = sx(v) + labelDx, ay = labelY;
    const t = el('text', {x: ax, y: ay, 'text-anchor': 'end', 'font-style': 'italic', 'font-size': 23, transform: `rotate(-47 ${ax} ${ay})`}, g);
    t.style.fontSize = '23px';
    
    
    t.appendChild(document.createTextNode('1 x 10'));
    const s = el('tspan', {dy: -9}, t);
    s.style.fontSize = '14px';
    s.textContent = expLabels[i];
  });
}
goChart('panel-d-down', downQ, downColors, 509.5, 496, 760, 0, 20, downExponents, downExponentLabels, 794, 9);
goChart('panel-d-up', upQ, upColors, 997, 984, 1248.3, 1, 3, upExponents, upExponentLabels, 1284, 5);

/* ---------- Panel e ---------- */
const mean = a => a.reduce((s, v) => s + v, 0) / a.length;
const sem = a => {
  const m = mean(a);
  return Math.sqrt(a.reduce((s, v) => s + (v - m) * (v - m), 0) / (a.length - 1)) / Math.sqrt(a.length);
};
geneSymbols.forEach((gene, c) => {
  const g = document.getElementById('chart-' + c);
  const ticks = tpmTicks[c];
  const maxV = ticks[ticks.length - 1];
  const L = axisLeft[c], B = axisBottom[c], T = axisTop[c], R = axisRight[c];
  const sy = v => B - v * (B - T) / maxV;
  axisLine(g, L, T - 1.6, L, B + 1.6, 3.8, 'y-axis');
  axisLine(g, L - 10, B, R, B, 3.4, 'x-axis');
  ticks.forEach(v => {
    axisLine(g, L - 10, sy(v), L, sy(v), 3.2, 'y-tick');
    label(g, L - 16, sy(v) + 6.3, String(v), 'end', 'y-tick-label');
  });
  [dm1TickX[c], dmdTickX[c]].forEach((x, k) => {
    axisLine(g, x, B, x, B + 10, 3, 'x-tick');
    label(g, x + (k === 0 ? -4.5 : 3), B + 41, groupLabels[k], 'middle', 'x-tick-label');
  });
  [[dm1Tpm[c], dm1Jitter[c], dm1TickX[c]], [dmdTpm[c], dmdJitter[c], dmdTickX[c]]].forEach((grp, k) => {
    const vals = grp[0], x = grp[2];
    vals.forEach((v, i) => {
      if (k === 0) dot(g, x + grp[1][i], sy(v), 5.5, '#000', gene + '-dm1-sample');
      else diamond(g, x + grp[1][i], sy(v), 5.5, '#000', gene + '-dmd-sample');
    });
    const m = mean(vals), e = sem(vals);
    axisLine(g, x - 22, sy(m), x + 22, sy(m), 2.4, gene + '-mean-line');
    axisLine(g, x, sy(m + e), x, sy(m - e), 2.4, gene + '-error-bar');
    axisLine(g, x - 12, sy(m + e), x + 12, sy(m + e), 2.4, gene + '-error-cap');
    axisLine(g, x - 12, sy(m - e), x + 12, sy(m - e), 2.4, gene + '-error-cap');
  });
});
</script>
</body>
</html>
